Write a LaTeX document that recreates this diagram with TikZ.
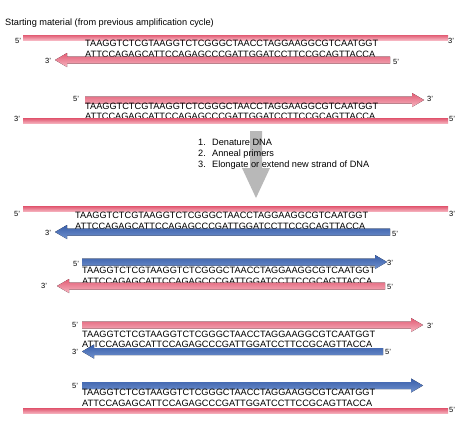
\documentclass[tikz,border=0pt]{standalone}
\usepackage{fontspec}
\setmainfont{Liberation Sans}
\definecolor{pkD}{RGB}{226,92,116}
\definecolor{pkL}{RGB}{246,180,192}
\definecolor{blD}{RGB}{56,94,170}
\definecolor{blL}{RGB}{112,145,205}
\definecolor{grA}{RGB}{184,184,184}
\tikzset{
  pinkfill/.style={top color=pkD, bottom color=pkL, draw=none},
  bluefill/.style={top color=blD, bottom color=blL, draw=none},
  lbl/.style={font=\fontsize{7.5}{8}\selectfont, inner sep=0pt},
  seq/.style={font=\fontsize{9.2}{11}\selectfont, inner sep=0pt, anchor=base west},
  txt/.style={font=\fontsize{9.2}{11}\selectfont, inner sep=0pt, anchor=base west},
}
% bar: x1 x2 y style
\newcommand\dnabar[4]{\fill[#4] (#1,{#3-2.5}) rectangle (#2,{#3+2.5});}
% right arrow: tail x1, tip x2, y, style
\newcommand\dnarrow[4]{\fill[#4] (#1,{#3-3.5}) -- ({#2-12},{#3-3.5}) -- ({#2-12},{#3-7}) -- (#2,#3) -- ({#2-12},{#3+7}) -- ({#2-12},{#3+3.5}) -- (#1,{#3+3.5}) -- cycle;}
% left arrow: tip x1, tail x2, y, style
\newcommand\dnalarrow[4]{\fill[#4] (#2,{#3-3.5}) -- ({#1+12},{#3-3.5}) -- ({#1+12},{#3-7}) -- (#1,#3) -- ({#1+12},{#3+7}) -- ({#1+12},{#3+3.5}) -- (#2,{#3+3.5}) -- cycle;}
\begin{document}
\begin{tikzpicture}[x=1pt,y=-1pt]
\useasboundingbox[fill=white] (0,0) rectangle (474,434);
\node[txt] (title) at (5,25) {Starting material (from previous amplification cycle)};
% ---- Section 1, pair 1
\dnabar{23}{448}{37.5}{pinkfill}
\node[lbl] (a5) at (18,40.5) {5'};
\node[lbl] (a3) at (451,41) {3'};
\node[seq] (a1) at (85,46.5) {TAAGGTCTCGTAAGGTCTCGGGCTAACCTAGGAAGGCGTCAATGGT};
\node[seq] (a2) at (85,57.5) {ATTCCAGAGCATTCCAGAGCCCGATTGGATCCTTCCGCAGTTACCA};
\dnalarrow{55}{390}{60}{pinkfill}
\node[lbl] (b3) at (48,61) {3'};
\node[lbl] (b5) at (396,62) {5'};
% ---- Section 1, pair 2
\dnarrow{85}{424}{100}{pinkfill}
\node[lbl] (c5) at (76,99) {5'};
\node[lbl] (c3) at (430,99) {3'};
\node[seq] (c1) at (85,109) {TAAGGTCTCGTAAGGTCTCGGGCTAACCTAGGAAGGCGTCAATGGT};
\node[seq] (c2) at (85,119.5) {ATTCCAGAGCATTCCAGAGCCCGATTGGATCCTTCCGCAGTTACCA};
\dnabar{23}{448}{121}{pinkfill}
\node[lbl] (d3) at (17,118.5) {3'};
\node[lbl] (d5) at (452,118.5) {5'};
% ---- gray arrow and steps
\fill[grA] (250,131) -- (262,131) -- (262,168) -- (270,168) -- (256,198) -- (242,168) -- (250,168) -- cycle;
\node[txt] (s1n) at (198,145) {1.};
\node[txt] (s1) at (212,145) {Denature DNA};
\node[txt] (s2n) at (198,156) {2.};
\node[txt] (s2) at (212,156) {Anneal primers};
\node[txt] (s3n) at (198,167) {3.};
\node[txt] (s3) at (212,167) {Elongate or extend new strand of DNA};
% ---- Section 2, pair A
\dnabar{23}{448}{209}{pinkfill}
\node[lbl] (e5) at (17,214) {5'};
\node[lbl] (e3) at (452,214) {3'};
\node[seq] (e1) at (75,218.5) {TAAGGTCTCGTAAGGTCTCGGGCTAACCTAGGAAGGCGTCAATGGT};
\node[seq] (e2) at (75,229.5) {ATTCCAGAGCATTCCAGAGCCCGATTGGATCCTTCCGCAGTTACCA};
\dnalarrow{55}{390}{232}{bluefill}
\node[lbl] (f3) at (48,233) {3'};
\node[lbl] (f5) at (395,234) {5'};
% ---- Section 2, pair B
\dnarrow{82}{387}{262}{bluefill}
\node[lbl] (g5) at (76,264) {5'};
\node[lbl] (g3) at (390,263) {3'};
\node[seq] (g1) at (82,273.5) {TAAGGTCTCGTAAGGTCTCGGGCTAACCTAGGAAGGCGTCAATGGT};
\node[seq] (g2) at (82,284.5) {ATTCCAGAGCATTCCAGAGCCCGATTGGATCCTTCCGCAGTTACCA};
\dnalarrow{57}{385}{286}{pinkfill}
\node[lbl] (h3) at (44,286) {3'};
\node[lbl] (h5) at (390,287) {5'};
% ---- Section 2, pair C
\dnarrow{82}{423}{325}{pinkfill}
\node[lbl] (i5) at (75,325) {5'};
\node[lbl] (i3) at (430,326) {3'};
\node[seq] (i1) at (82,337) {TAAGGTCTCGTAAGGTCTCGGGCTAACCTAGGAAGGCGTCAATGGT};
\node[seq] (i2) at (82,347.5) {ATTCCAGAGCATTCCAGAGCCCGATTGGATCCTTCCGCAGTTACCA};
\dnalarrow{82}{383}{351.5}{bluefill}
\node[lbl] (j3) at (75,352) {3'};
\node[lbl] (j5) at (388,352) {5'};
% ---- Section 2, pair D
\dnarrow{82}{423}{385.5}{bluefill}
\node[lbl] (k5) at (75,386) {5'};
\node[seq] (k1) at (82,395) {TAAGGTCTCGTAAGGTCTCGGGCTAACCTAGGAAGGCGTCAATGGT};
\node[seq] (k2) at (82,406) {ATTCCAGAGCATTCCAGAGCCCGATTGGATCCTTCCGCAGTTACCA};
\dnabar{23}{448}{411}{pinkfill}
\node[lbl] (l5) at (452,410) {5'};
\end{tikzpicture}
\end{document}
